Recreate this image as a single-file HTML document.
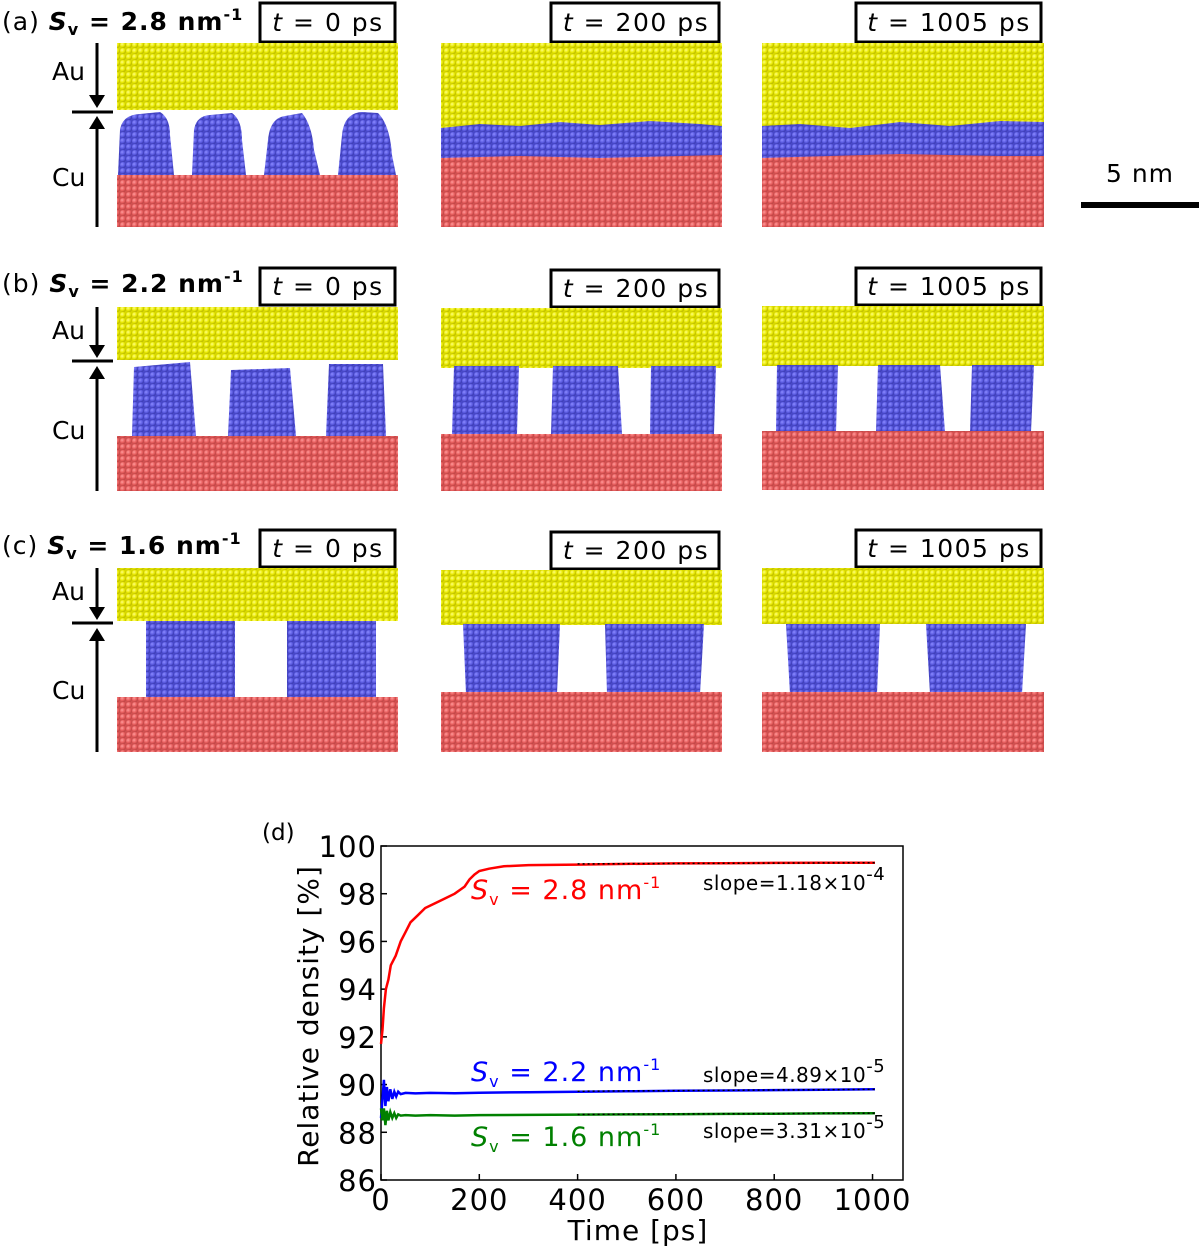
<!DOCTYPE html>
<html><head><meta charset="utf-8"><style>
html,body{margin:0;padding:0;background:#fff;}
svg{display:block;font-family:"DejaVu Sans","Liberation Sans",sans-serif;}
</style></head><body>
<svg id="fig" width="1200" height="1246" viewBox="0 0 1200 1246" xmlns="http://www.w3.org/2000/svg">
<defs>
<radialGradient id="gy" cx="0.35" cy="0.35" r="0.7"><stop offset="0" stop-color="#ffff80"/><stop offset="0.6" stop-color="#e8e800"/><stop offset="1" stop-color="#b0b000"/></radialGradient>
<radialGradient id="gb" cx="0.35" cy="0.35" r="0.7"><stop offset="0" stop-color="#8a8aff"/><stop offset="0.6" stop-color="#5a5ae0"/><stop offset="1" stop-color="#3535a8"/></radialGradient>
<radialGradient id="gr" cx="0.35" cy="0.35" r="0.7"><stop offset="0" stop-color="#ff9a9a"/><stop offset="0.6" stop-color="#e65c5c"/><stop offset="1" stop-color="#b54040"/></radialGradient>
<pattern id="py" width="6" height="6" patternUnits="userSpaceOnUse"><rect width="6" height="6" fill="#d8d800"/><circle cx="3" cy="3" r="3" fill="url(#gy)"/></pattern>
<pattern id="pb" width="6" height="6" patternUnits="userSpaceOnUse"><rect width="6" height="6" fill="#4848c8"/><circle cx="3" cy="3" r="3" fill="url(#gb)"/></pattern>
<pattern id="pr" width="6" height="6" patternUnits="userSpaceOnUse"><rect width="6" height="6" fill="#d05050"/><circle cx="3" cy="3" r="3" fill="url(#gr)"/></pattern>
</defs>

<g font-size="25" letter-spacing="1">
<text x="2" y="30">(a) <tspan font-weight="bold" font-style="italic">S</tspan><tspan font-weight="bold" font-size="16" dy="5">v</tspan><tspan font-weight="bold" dy="-5"> = 2.8 nm</tspan><tspan font-weight="bold" font-size="16" dy="-10">-1</tspan></text>
</g>
<g font-size="25" letter-spacing="1">
<text x="2" y="292">(b) <tspan font-weight="bold" font-style="italic">S</tspan><tspan font-weight="bold" font-size="16" dy="5">v</tspan><tspan font-weight="bold" dy="-5"> = 2.2 nm</tspan><tspan font-weight="bold" font-size="16" dy="-10">-1</tspan></text>
</g>
<g font-size="25" letter-spacing="1">
<text x="2" y="554">(c) <tspan font-weight="bold" font-style="italic">S</tspan><tspan font-weight="bold" font-size="16" dy="5">v</tspan><tspan font-weight="bold" dy="-5"> = 1.6 nm</tspan><tspan font-weight="bold" font-size="16" dy="-10">-1</tspan></text>
</g>

<g font-size="25">
<text x="52" y="80">Au</text><text x="52" y="186">Cu</text>
<line x1="97" y1="43" x2="97" y2="98" stroke="#000" stroke-width="3"/><polygon points="89,95 105,95 97,108" fill="#000"/>
<line x1="72" y1="112" x2="113" y2="112" stroke="#000" stroke-width="3"/>
<line x1="97" y1="227" x2="97" y2="126" stroke="#000" stroke-width="3"/><polygon points="89,129 105,129 97,116" fill="#000"/>
</g>
<g font-size="25">
<text x="52" y="339">Au</text><text x="52" y="439">Cu</text>
<line x1="97" y1="307" x2="97" y2="348" stroke="#000" stroke-width="3"/><polygon points="89,345 105,345 97,358" fill="#000"/>
<line x1="72" y1="361" x2="113" y2="361" stroke="#000" stroke-width="3"/>
<line x1="97" y1="491" x2="97" y2="376" stroke="#000" stroke-width="3"/><polygon points="89,379 105,379 97,366" fill="#000"/>
</g>
<g font-size="25">
<text x="52" y="600">Au</text><text x="52" y="699">Cu</text>
<line x1="97" y1="568" x2="97" y2="610" stroke="#000" stroke-width="3"/><polygon points="89,607 105,607 97,620" fill="#000"/>
<line x1="72" y1="623" x2="113" y2="623" stroke="#000" stroke-width="3"/>
<line x1="97" y1="752" x2="97" y2="638" stroke="#000" stroke-width="3"/><polygon points="89,641 105,641 97,628" fill="#000"/>
</g>

<g font-size="25" letter-spacing="1.5">
<g><rect x="260" y="3" width="135" height="39" fill="#fff" stroke="#000" stroke-width="3"/><text x="328" y="31" text-anchor="middle"><tspan font-style="italic">t</tspan> = 0 ps</text></g>
<g><rect x="551" y="3" width="168" height="39" fill="#fff" stroke="#000" stroke-width="3"/><text x="636" y="31" text-anchor="middle"><tspan font-style="italic">t</tspan> = 200 ps</text></g>
<g><rect x="856" y="3" width="185" height="39" fill="#fff" stroke="#000" stroke-width="3"/><text x="949" y="31" text-anchor="middle"><tspan font-style="italic">t</tspan> = 1005 ps</text></g>
<g><rect x="260" y="268" width="135" height="37" fill="#fff" stroke="#000" stroke-width="3"/><text x="328" y="295" text-anchor="middle"><tspan font-style="italic">t</tspan> = 0 ps</text></g>
<g><rect x="551" y="270" width="168" height="37" fill="#fff" stroke="#000" stroke-width="3"/><text x="636" y="297" text-anchor="middle"><tspan font-style="italic">t</tspan> = 200 ps</text></g>
<g><rect x="856" y="268" width="185" height="37" fill="#fff" stroke="#000" stroke-width="3"/><text x="949" y="295" text-anchor="middle"><tspan font-style="italic">t</tspan> = 1005 ps</text></g>
<g><rect x="260" y="530" width="135" height="37" fill="#fff" stroke="#000" stroke-width="3"/><text x="328" y="557" text-anchor="middle"><tspan font-style="italic">t</tspan> = 0 ps</text></g>
<g><rect x="551" y="532" width="168" height="37" fill="#fff" stroke="#000" stroke-width="3"/><text x="636" y="559" text-anchor="middle"><tspan font-style="italic">t</tspan> = 200 ps</text></g>
<g><rect x="856" y="530" width="185" height="37" fill="#fff" stroke="#000" stroke-width="3"/><text x="949" y="557" text-anchor="middle"><tspan font-style="italic">t</tspan> = 1005 ps</text></g>
</g>

<g>
<text x="1140" y="182" font-size="25" letter-spacing="1" text-anchor="middle">5 nm</text>
<rect x="1081" y="202" width="118" height="6" fill="#000"/>
</g>

<g>
<rect x="117" y="43" width="281" height="67" fill="url(#py)"/>
<path d="M120,130 Q122,115 140,114 L160,112 Q170,118 170,135 L174,175 L118,175 Z" fill="url(#pb)"/>
<path d="M194,130 Q196,116 210,115 L232,113 Q242,120 242,140 L246,175 L192,175 Z" fill="url(#pb)"/>
<path d="M268,140 Q270,118 285,116 L302,113 Q312,125 314,150 L320,175 L264,175 Z" fill="url(#pb)"/>
<path d="M342,135 Q344,113 362,112 L378,113 Q390,125 392,155 L396,175 L338,175 Z" fill="url(#pb)"/>
<rect x="117" y="175" width="281" height="52" fill="url(#pr)"/>
</g>
<g>
<rect x="441" y="43" width="281" height="88" fill="url(#py)"/>
<polygon points="441,128 480,124 520,126 560,122 600,125 650,121 700,124 722,126 722,160 441,160" fill="url(#pb)"/>
<polygon points="441,158 520,156 600,158 722,155 722,227 441,227" fill="url(#pr)"/>
</g>
<g>
<rect x="762" y="43" width="282" height="88" fill="url(#py)"/>
<polygon points="762,126 800,124 850,128 900,122 950,126 1000,121 1044,122 1044,158 762,160" fill="url(#pb)"/>
<polygon points="762,158 830,156 900,154 1000,156 1044,156 1044,227 762,227" fill="url(#pr)"/>
</g>
<g>
<rect x="117" y="307" width="281" height="53" fill="url(#py)"/>
<polygon points="134,367 190,362 196,436 132,436" fill="url(#pb)"/>
<polygon points="231,370 290,368 296,436 228,436" fill="url(#pb)"/>
<polygon points="329,364 383,364 386,436 326,436" fill="url(#pb)"/>
<rect x="117" y="436" width="281" height="55" fill="url(#pr)"/>
</g>
<g>
<rect x="441" y="308" width="281" height="60" fill="url(#py)"/>
<polygon points="454,366 519,366 517,434 452,434" fill="url(#pb)"/>
<polygon points="553,366 618,366 622,434 551,434" fill="url(#pb)"/>
<polygon points="651,366 716,366 714,434 650,434" fill="url(#pb)"/>
<rect x="441" y="434" width="281" height="57" fill="url(#pr)"/>
</g>
<g>
<rect x="762" y="306" width="282" height="60" fill="url(#py)"/>
<polygon points="777,365 838,365 836,432 776,432" fill="url(#pb)"/>
<polygon points="878,365 940,365 945,432 876,432" fill="url(#pb)"/>
<polygon points="972,365 1034,365 1031,432 970,432" fill="url(#pb)"/>
<rect x="762" y="431" width="282" height="59" fill="url(#pr)"/>
</g>
<g>
<rect x="117" y="568" width="281" height="53" fill="url(#py)"/>
<rect x="146" y="621" width="89" height="76" fill="url(#pb)"/>
<rect x="287" y="621" width="89" height="76" fill="url(#pb)"/>
<rect x="117" y="697" width="281" height="55" fill="url(#pr)"/>
</g>
<g>
<rect x="441" y="570" width="281" height="55" fill="url(#py)"/>
<polygon points="463,624 560,624 557,694 466,694" fill="url(#pb)"/>
<polygon points="605,624 704,624 700,694 607,694" fill="url(#pb)"/>
<rect x="441" y="692" width="281" height="60" fill="url(#pr)"/>
</g>
<g>
<rect x="762" y="568" width="282" height="56" fill="url(#py)"/>
<polygon points="786,624 880,624 877,694 790,694" fill="url(#pb)"/>
<polygon points="926,624 1026,624 1022,694 930,694" fill="url(#pb)"/>
<rect x="762" y="692" width="282" height="60" fill="url(#pr)"/>
</g>

<text x="262" y="840" font-size="23">(d)</text>
<g id="chart"></g>
</svg>
<script>
const timeRed = [0, 3, 6, 10, 15, 20, 30, 40, 50, 60, 75, 90, 110, 130, 150, 170, 180, 190, 200, 220, 250, 300, 400, 500, 600, 700, 800, 900, 1005];
const valRed = [91.7, 92.3, 93.2, 94.0, 94.4, 95.0, 95.4, 96.0, 96.4, 96.8, 97.1, 97.4, 97.6, 97.8, 98.0, 98.3, 98.6, 98.8, 98.95, 99.05, 99.15, 99.2, 99.22, 99.25, 99.27, 99.28, 99.29, 99.3, 99.3];
const timeBlue = [0, 3, 6, 9, 12, 15, 19, 23, 27, 31, 35, 40, 50, 70, 100, 150, 200, 300, 400, 500, 600, 700, 800, 900, 1005];
const valBlue = [88.6, 89.4, 90.2, 89.1, 89.9, 89.3, 89.8, 89.4, 89.7, 89.5, 89.7, 89.6, 89.65, 89.63, 89.65, 89.64, 89.66, 89.68, 89.7, 89.72, 89.74, 89.75, 89.77, 89.78, 89.8];
const timeGreen = [0, 3, 6, 9, 12, 15, 19, 23, 27, 31, 35, 40, 50, 70, 100, 150, 200, 300, 400, 500, 600, 700, 800, 900, 1005];
const valGreen = [89.0, 88.5, 89.0, 88.3, 88.9, 88.5, 88.85, 88.6, 88.8, 88.6, 88.75, 88.7, 88.72, 88.7, 88.72, 88.7, 88.72, 88.73, 88.74, 88.75, 88.76, 88.77, 88.78, 88.79, 88.8];
const xTicks = [0, 200, 400, 600, 800, 1000];
const yTicks = [86, 88, 90, 92, 94, 96, 98, 100];

const NS = "http://www.w3.org/2000/svg";
const L = 381, R = 903, T = 846, B = 1180;
const xMin = 0, xMax = 1062, yMin = 86, yMax = 100;
function xs(t){ return L + (t - xMin) / (xMax - xMin) * (R - L); }
function ys(v){ return B - (v - yMin) / (yMax - yMin) * (B - T); }
const g = document.getElementById('chart');
function mk(tag, attrs, parent){
  const e = document.createElementNS(NS, tag);
  for (const k in attrs) e.setAttribute(k, attrs[k]);
  (parent || g).appendChild(e);
  return e;
}
const frame = mk('rect', {x: L, y: T, width: R - L, height: B - T, fill: 'none', stroke: '#000', 'stroke-width': 1.5});


xTicks.forEach(t => {
  const ln = mk('line', {x1: xs(t), x2: xs(t), y1: B, y2: B - 6, stroke: '#000', 'stroke-width': 1.5});
  
  
  const tx = mk('text', {x: xs(t), y: B + 30, 'font-size': 29, 'letter-spacing': 1, 'text-anchor': 'middle'});
  tx.textContent = t;
  
  
});
yTicks.forEach(v => {
  const ln = mk('line', {x1: L, x2: L + 6, y1: ys(v), y2: ys(v), stroke: '#000', 'stroke-width': 1.5});
  
  
  const tx = mk('text', {x: L - 4, y: ys(v) + 11, 'font-size': 29, 'letter-spacing': 1, 'text-anchor': 'end'});
  tx.textContent = v;
  
  
});
const xt = mk('text', {x: (L + R) / 2 - 4, y: 1240, 'font-size': 28, 'letter-spacing': 1, 'text-anchor': 'middle'});
xt.textContent = 'Time [ps]';


const yt = mk('text', {x: 0, y: 0, 'font-size': 28, 'letter-spacing': 1, 'text-anchor': 'middle', transform: 'translate(318,1016) rotate(-90)'});
yt.textContent = 'Relative density [%]';


function series(ts, vs, color, name){
  const d = ts.map((t, i) => (i ? 'L' : 'M') + xs(t).toFixed(1) + ',' + ys(vs[i]).toFixed(1)).join(' ');
  const p = mk('path', {d: d, fill: 'none', stroke: color, 'stroke-width': 2.5});
  
  
}
series(timeRed, valRed, '#ff0000', 'series-sv-2-8');
series(timeBlue, valBlue, '#0000ff', 'series-sv-2-2');
series(timeGreen, valGreen, '#008000', 'series-sv-1-6');
function fitLine(ts, vs, name){
  const n = ts.length;
  const p = mk('line', {x1: xs(400), y1: ys(vs[n - 6]), x2: xs(ts[n - 1]), y2: ys(vs[n - 1]), stroke: '#000', 'stroke-width': 1.5, 'stroke-dasharray': '2,3'});
  
  
}
fitLine(timeRed, valRed, 'fit-sv-2-8');
fitLine(timeBlue, valBlue, 'fit-sv-2-2');
fitLine(timeGreen, valGreen, 'fit-sv-1-6');
function label(x, y, color, txt, name){
  const t = mk('text', {x: x, y: y, 'font-size': 27, 'letter-spacing': 1, fill: color});
  t.innerHTML = '<tspan font-style="italic">S</tspan><tspan font-size="16" dy="6">v</tspan><tspan dy="-6"> = ' + txt + ' nm</tspan><tspan font-size="16" dy="-11">-1</tspan>';
  
  
}
label(471, 899, '#ff0000', '2.8', 'label-sv-2-8');
label(471, 1081, '#0000ff', '2.2', 'label-sv-2-2');
label(471, 1146, '#008000', '1.6', 'label-sv-1-6');
function slope(y, mant, exp, name){
  const t = mk('text', {x: 703, y: y, 'font-size': 20, 'letter-spacing': 0.5, fill: '#000'});
  t.innerHTML = 'slope=' + mant + '×10<tspan font-size="18" dy="-10">' + exp + '</tspan>';
  
  
}
slope(890, '1.18', '-4', 'slope-sv-2-8');
slope(1082, '4.89', '-5', 'slope-sv-2-2');
slope(1138, '3.31', '-5', 'slope-sv-1-6');
</script>
</body></html>
